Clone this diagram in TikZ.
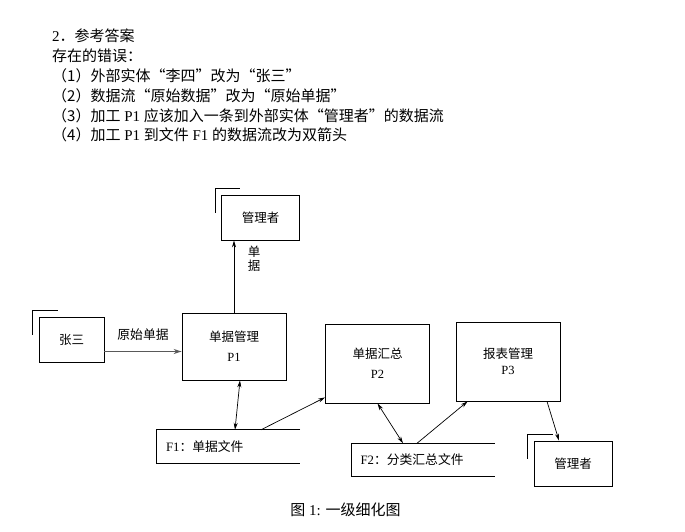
\documentclass[tikz,border=0pt]{standalone}
\usepackage{fontspec}
\setmainfont{Liberation Serif}
\newfontfamily\cjkfont{Noto Sans CJK SC}
\usepackage{tikz}
\usetikzlibrary{calc}
\usetikzlibrary{arrows.meta,positioning}
\newcommand{\zh}[1]{{\cjkfont #1}}
\tikzset{
  proc/.style={draw,line width=0.8pt,minimum width=104pt,minimum height=67pt,align=center,
    font=\fontsize{12.5}{20}\selectfont},
  entity/.style={draw,line width=0.8pt,minimum width=78pt,minimum height=45pt,
    font=\fontsize{12.5}{15}\selectfont},
  store/.style={minimum height=33pt,inner xsep=9pt,text width=125pt,align=left,
    font=\fontsize{12.8}{15}\selectfont},
  flow/.style={line width=0.7pt,-{Stealth[length=7pt,width=4pt]}},
  dflow/.style={line width=0.7pt,{Stealth[length=7pt,width=4pt]}-{Stealth[length=7pt,width=4pt]}},
  flowg/.style={line width=1.6pt,gray!70!black,-{Stealth[length=8pt,width=5pt]}}
}
\begin{document}
\begin{tikzpicture}[x=1pt,y=-1pt]
        \useasboundingbox (0,0) rectangle (685,532);
        \node[anchor=north west,inner sep=0pt,align=left,font=\fontsize{15}{19.8}\selectfont] (notes) at (52,29) {%
          2\zh{．参考答案}\\
          \zh{存在的错误：}\\
          \zh{（1）外部实体“李四”改为“张三”}\\
          \zh{（2）数据流“原始数据”改为“原始单据”}\\
          \zh{（3）加工} P1 \zh{应该加入一条到外部实体“管理者”的数据流}\\
          \zh{（4）加工} P1 \zh{到文件} F1 \zh{的数据流改为双箭头}};
        \node[entity] (mgr) at (260.5,217.5) {\zh{管理者}};
        \node[entity,minimum width=65pt] (zs) at (71.5,339.5) {\zh{张三}};
        \node[entity] (mgrb) at (573,463.5) {\zh{管理者}};
        \node[proc] (p1) at (234,346.5) {\zh{单据管理}\\P1};
        \node[proc,minimum height=79pt] (p2) at (377.5,363.5) {\zh{单据汇总}\\P2};
        \node[proc,minimum height=79pt,font=\fontsize{12.5}{16}\selectfont] (p3) at (508,361.5) {\zh{报表管理}\\P3};
        \node[store,minimum width=143pt] (f1) at (228.5,446.5) {F1\zh{：单据文件}};
        \node[store,minimum width=142pt] (f2) at (423,460) {F2\zh{：分类汇总文件}};
        \foreach \s in {f1,f2}
          \draw[line width=0.8pt] (\s.north east) -- (\s.north west) -- (\s.south west) -- (\s.south east);
        \foreach \e in {mgr,zs,mgrb}
          \draw[line width=0.8pt] ($(\e.north west)+(-6,18)$) -- ($(\e.north west)+(-6,-6)$) -- ($(\e.north west)+(19,-6)$);
        \draw[flowg] ([yshift=-12pt]zs.east) -- ([yshift=-12pt]zs.east -| p1.west)
          node[midway,above=7pt,text=black,font=\fontsize{12.8}{15}\selectfont] (lraw) {\zh{原始单据}};
        \draw[flow] (p1.north) -- (p1.north |- mgr.south);
        \node[align=center,inner sep=0pt,font=\fontsize{12.5}{14}\selectfont] (lbill) at (254,259) {\zh{单}\\\zh{据}};
        \draw[dflow] ([xshift=6pt]p1.south) -- ([xshift=6.5pt]f1.north);
        \draw[flow] ([xshift=32.5pt]f1.north) -- ([yshift=6pt]p2.south west);
        \draw[dflow] (p2.south) -- ([xshift=-20pt]f2.north);
        \draw[flow] ([xshift=-6pt]f2.north) -- ([xshift=12pt]p3.south west);
        \draw[flow] ([xshift=39pt]p3.south) -- ([xshift=-14pt]mgrb.north);
        \node[font=\fontsize{15}{16}\selectfont] (cap) at (345.5,510) {\zh{图} 1: \zh{一级细化图}};
      \end{tikzpicture}
\end{document}
